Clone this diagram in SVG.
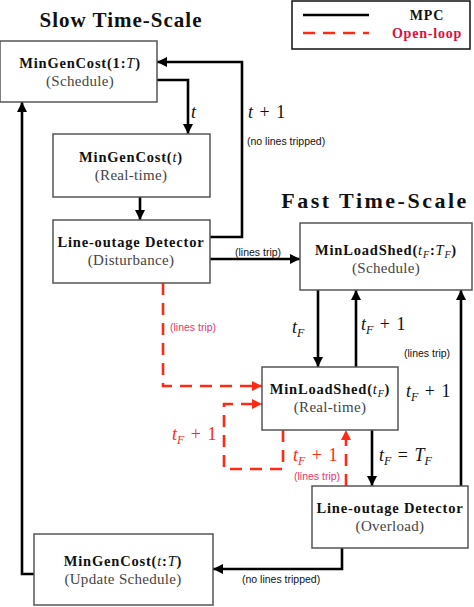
<svg xmlns="http://www.w3.org/2000/svg" width="474" height="607" viewBox="0 0 474 607">
<defs>
<marker id="ah" viewBox="0 0 10 10" refX="10" refY="5" markerWidth="4" markerHeight="4" markerUnits="strokeWidth" orient="auto"><path d="M0,0 L10,5 L0,10 z" fill="#000"/></marker>
<marker id="ahr" viewBox="0 0 10 10" refX="10" refY="5" markerWidth="4" markerHeight="4" markerUnits="strokeWidth" orient="auto"><path d="M0,0 L10,5 L0,10 z" fill="#ff2a14"/></marker>
</defs>
<style>
.box{fill:#fff;stroke:#555;stroke-width:1.5}
.nm{font-family:"Liberation Serif",serif;font-weight:bold;font-size:14.5px;letter-spacing:0.8px;fill:#111;text-anchor:middle}
.sub{font-family:"Liberation Serif",serif;font-size:15px;letter-spacing:0.3px;fill:#444;text-anchor:middle}
.it{font-style:italic;font-weight:normal}
.ttl{font-family:"Liberation Serif",serif;font-weight:bold;fill:#111;text-anchor:middle}
.c{fill:none;stroke:#000;stroke-width:2.6}
.r{fill:none;stroke:#ff2a14;stroke-width:2.6;stroke-dasharray:12,8}
.sm{font-family:"Liberation Sans",sans-serif;font-size:10.5px;fill:#111}
.smr{font-family:"Liberation Sans",sans-serif;font-size:10.5px;fill:#e8336e}
.m{font-family:"Liberation Serif",serif;font-size:18px;word-spacing:2px;fill:#111}
.mr{font-family:"Liberation Serif",serif;font-size:18px;word-spacing:2px;fill:#ff2a14}
.sb{font-size:12px}
</style>
<text class="ttl" x="121" y="27" style="font-size:21px;letter-spacing:1px">Slow Time-Scale</text>
<text class="ttl" x="375" y="208" style="font-size:22px;letter-spacing:2.5px">Fast Time-Scale</text>
<g id="legend">
<rect x="292" y="1" width="178" height="48" fill="#fff" stroke="#111" stroke-width="1.5"/>
<line x1="303" y1="15" x2="369" y2="15" stroke="#000" stroke-width="2.6"/>
<line x1="303" y1="33" x2="369" y2="33" stroke="#ff2a14" stroke-width="2.6" stroke-dasharray="12,8"/>
<text x="427" y="20" class="nm" style="font-size:14px">MPC</text>
<text x="427" y="38" class="nm" style="font-size:14px;fill:#e0103a">Open-loop</text>
</g>
<g id="connectors">
<polyline class="c" points="157,80 188,80 188,134" marker-end="url(#ah)"/>
<polyline class="c" points="210,237 242,237 242,62 157,62" marker-end="url(#ah)"/>
<line class="c" x1="140" y1="197" x2="140" y2="220" marker-end="url(#ah)"/>
<line class="c" x1="210" y1="259" x2="300" y2="259" marker-end="url(#ah)"/>
<line class="c" x1="318" y1="290" x2="318" y2="367" marker-end="url(#ah)"/>
<line class="c" x1="356" y1="367" x2="356" y2="290" marker-end="url(#ah)"/>
<line class="c" x1="461" y1="486" x2="461" y2="290" marker-end="url(#ah)"/>
<line class="c" x1="372" y1="430" x2="372" y2="486" marker-end="url(#ah)"/>
<polyline class="c" points="342,548 342,569 213,569" marker-end="url(#ah)"/>
<polyline class="c" points="34,574 22,574 22,102" marker-end="url(#ah)"/>
<polyline class="r" points="163,283 163,386 262,386" marker-end="url(#ahr)"/>
<polyline class="r" points="283,430 283,469 224,469 224,404 262,404" marker-end="url(#ahr)"/>
<line class="r" x1="346" y1="486" x2="346" y2="430" marker-end="url(#ahr)"/>
<text class="m" x="191" y="118" font-style="italic">t</text>
<text class="m" x="248" y="118"><tspan font-style="italic">t</tspan> + 1</text>
<text class="sm" x="247" y="145">(no lines tripped)</text>
<text class="sm" x="235" y="256">(lines trip)</text>
<text class="m" x="292" y="333"><tspan font-style="italic">t</tspan><tspan class="sb" font-style="italic" dy="4">F</tspan></text>
<text class="m" x="361" y="330"><tspan font-style="italic">t</tspan><tspan class="sb" font-style="italic" dy="4">F</tspan><tspan dy="-4"> + 1</tspan></text>
<text class="sm" x="404" y="357">(lines trip)</text>
<text class="m" x="406" y="397"><tspan font-style="italic">t</tspan><tspan class="sb" font-style="italic" dy="4">F</tspan><tspan dy="-4"> + 1</tspan></text>
<text class="m" x="379" y="461"><tspan font-style="italic">t</tspan><tspan class="sb" font-style="italic" dy="4">F</tspan><tspan dy="-4"> = </tspan><tspan font-style="italic">T</tspan><tspan class="sb" font-style="italic" dy="4">F</tspan></text>
<text class="smr" x="170" y="331">(lines trip)</text>
<text class="mr" x="172" y="440"><tspan font-style="italic">t</tspan><tspan class="sb" font-style="italic" dy="4">F</tspan><tspan dy="-4"> + 1</tspan></text>
<text class="mr" x="293" y="461"><tspan font-style="italic">t</tspan><tspan class="sb" font-style="italic" dy="4">F</tspan><tspan dy="-4"> + 1</tspan></text>
<text class="smr" x="294" y="480">(lines trip)</text>
<text class="sm" x="242" y="583">(no lines tripped)</text>
</g>
<g id="n1">
<rect class="box" x="0" y="41" width="157" height="61"/>
<text class="nm" x="80" y="68">MinGenCost(1:<tspan class="it">T</tspan>)</text>
<text class="sub" x="80" y="86">(Schedule)</text>
</g>
<g id="n2">
<rect class="box" x="53" y="134" width="157" height="63"/>
<text class="nm" x="131" y="162">MinGenCost(<tspan class="it">t</tspan>)</text>
<text class="sub" x="131" y="180">(Real-time)</text>
</g>
<g id="n3">
<rect class="box" x="53" y="220" width="157" height="63"/>
<text class="nm" x="131" y="247">Line-outage Detector</text>
<text class="sub" x="131" y="265">(Disturbance)</text>
</g>
<g id="n4">
<rect class="box" x="300" y="223" width="172" height="67"/>
<text class="nm" x="386" y="255">MinLoadShed(<tspan class="it">t</tspan><tspan class="it" font-size="10" dy="3">F</tspan><tspan dy="-3">:</tspan><tspan class="it">T</tspan><tspan class="it" font-size="10" dy="3">F</tspan><tspan dy="-3">)</tspan></text>
<text class="sub" x="386" y="273">(Schedule)</text>
</g>
<g id="n5">
<rect class="box" x="262" y="367" width="136" height="63"/>
<text class="nm" x="330" y="394">MinLoadShed(<tspan class="it">t</tspan><tspan class="it" font-size="10" dy="3">F</tspan><tspan dy="-3">)</tspan></text>
<text class="sub" x="330" y="412">(Real-time)</text>
</g>
<g id="n6">
<rect class="box" x="312" y="486" width="156" height="62"/>
<text class="nm" x="390" y="513">Line-outage Detector</text>
<text class="sub" x="390" y="531">(Overload)</text>
</g>
<g id="n7">
<rect class="box" x="34" y="534" width="179" height="71"/>
<text class="nm" x="123" y="566">MinGenCost(<tspan class="it">t</tspan>:<tspan class="it">T</tspan>)</text>
<text class="sub" x="123" y="584">(Update Schedule)</text>
</g>
</svg>
